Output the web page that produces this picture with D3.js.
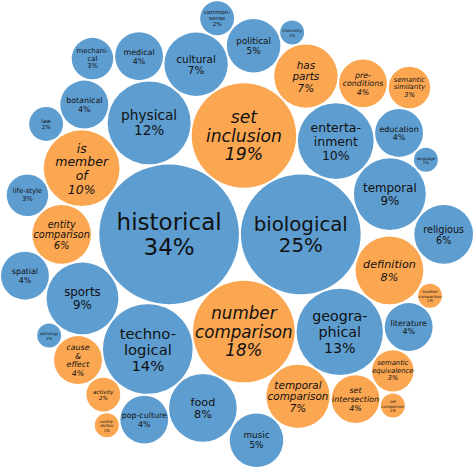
<!DOCTYPE html>
<html lang="en">
<head>
<meta charset="UTF-8">
<title>Topics and reasoning types</title>
<script src="https://d3js.org/d3.v7.min.js"></script>
<style>
  body { margin: 0; background: #fff; }
  svg { display: block; }
  .bubble text { font-family: "DejaVu Sans", sans-serif; fill: #111; text-anchor: middle; dominant-baseline: central; }
  .bubble.r text { font-style: italic; }
</style>
</head>
<body>
<svg id="chart"></svg>
<script>
const width = 474, height = 468;

// label lines are split on "\n"; order = packing order (largest first, ties by name)
const names = [
  "historical", "biological", "set\ninclusion", "number\ncomparison",
  "techno-\nlogical", "physical", "geogra-\nphical",
  "enterta-\ninment", "is\nmember\nof",
  "sports", "temporal",
  "definition", "food",
  "cultural", "has\nparts", "temporal\ncomparison",
  "entity\ncomparison", "religious",
  "music", "political",
  "botanical", "cause\n&\neffect", "education", "literature", "medical",
  "pop-culture", "pre-\nconditions", "set\nintersection", "spatial",
  "life-style", "mechani-\ncal", "semantic\nsimilarity",
  "activity", "common-\nsense", "law", "semantic\nequivalence",
  "astrology", "chemistry", "contra-\ndiction", "language", "location\ncomparison", "set\ncomparison"
];
const shares = [
  34, 25, 19, 18,
  14, 12, 13,
  10, 10,
  9, 9,
  8, 8,
  7, 7, 7,
  6, 6,
  5, 5,
  4, 4, 4, 4, 4,
  4, 4, 4, 4,
  3, 3, 3,
  2, 2, 2, 3,
  1, 1, 1, 1, 1, 1
];
// t = topic (blue), r = reasoning type (orange)
const kinds = [
  "t", "t", "r", "r",
  "t", "t", "t",
  "t", "r",
  "t", "t",
  "r", "t",
  "t", "r", "r",
  "r", "t",
  "t", "t",
  "t", "r", "t", "t", "t",
  "t", "r", "r", "t",
  "t", "t", "r",
  "r", "t", "t", "r",
  "t", "t", "r", "t", "r", "r"
];

const color = { t: "#5e9dd0", r: "#fba651" };

const radius = d3.scaleSqrt().domain([0, d3.max(shares)]).range([0, 71]);
const pad = 1;

const nodes = names.map((name, i) => ({
  lines: name.split("\n").concat(shares[i] + "%"),
  value: shares[i],
  kind: kinds[i],
  r: radius(shares[i]) + pad
}));
d3.packSiblings(nodes);

// fit the packed layout into the view (y flipped)
const x0 = d3.min(nodes, d => d.x - d.r), x1 = d3.max(nodes, d => d.x + d.r);
const y0 = d3.min(nodes, d => d.y - d.r), y1 = d3.max(nodes, d => d.y + d.r);
const k = Math.min(width / (x1 - x0), height / (y1 - y0));
const x = d3.scaleLinear().domain([x0, x1]).range([0, (x1 - x0) * k]);
const y = d3.scaleLinear().domain([y0, y1]).range([height, height - (y1 - y0) * k]);

const svg = d3.select("#chart").attr("width", width).attr("height", height);

const g = svg.selectAll(".bubble")
  .data(nodes)
  .join("g")
  .attr("class", d => "bubble " + d.kind)
  .attr("transform", d => `translate(${x(d.x)},${y(d.y)})`);

g.append("circle")
  .attr("r", d => (d.r - pad) * k)
  .attr("fill", d => color[d.kind]);

g.each(function(d) {
  const rr = (d.r - pad) * k;
  const fs = rr * 0.33, lh = fs * 1.1;
  const n = d.lines.length;
  d3.select(this).append("text")
    .style("font-size", fs + "px")
    .selectAll("tspan")
    .data(d.lines)
    .join("tspan")
    .attr("x", 0)
    .attr("y", (t, i) => (i - (n - 1) / 2) * lh)
    .text(t => t);
});
</script>
</body>
</html>
